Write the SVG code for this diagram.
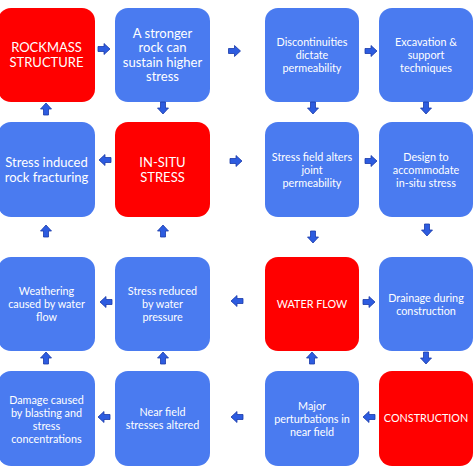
<svg xmlns="http://www.w3.org/2000/svg" width="474" height="474" viewBox="0 0 474 474">
<style>
.b{fill:#4a7bf0}
.r{fill:#ff0000}
text{font-family:Lato,"Liberation Sans",sans-serif;fill:#ffffff;text-anchor:middle}
.t1{font-size:13px}
.t2{font-size:10.8px}
.ar{fill:#2d5ce0;stroke:#1a3aa8;stroke-width:0.8}
</style>
<defs>
<path id="a" d="M-6,-2.5H0V-5.5L6,0L0,5.5V2.5H-6Z"/>
</defs>
<rect width="474" height="474" fill="#ffffff"/>
<g id="n1"><rect class="r" x="-2" y="8" width="97" height="94" rx="13"/><text class="t1"><tspan x="46.5" y="51.5">ROCKMASS</tspan><tspan x="46.5" y="66.5">STRUCTURE</tspan></text></g>
<g id="n2"><rect class="b" x="115" y="8" width="95" height="94" rx="13"/><text class="t1"><tspan x="162.5" y="37.5">A stronger</tspan><tspan x="162.5" y="52">rock can</tspan><tspan x="162.5" y="66.5">sustain higher</tspan><tspan x="162.5" y="81">stress</tspan></text></g>
<g id="n3"><rect class="b" x="265" y="8" width="94" height="94" rx="13"/><text class="t2"><tspan x="312" y="46">Discontinuities</tspan><tspan x="312" y="59">dictate</tspan><tspan x="312" y="72">permeability</tspan></text></g>
<g id="n4"><rect class="b" x="379" y="8" width="94" height="94" rx="13"/><text class="t2"><tspan x="426" y="46">Excavation &amp;</tspan><tspan x="426" y="59">support</tspan><tspan x="426" y="72">techniques</tspan></text></g>
<g id="n5"><rect class="b" x="-2" y="122" width="97" height="95" rx="13"/><text class="t1"><tspan x="46.5" y="166.5">Stress induced</tspan><tspan x="46.5" y="181.5">rock fracturing</tspan></text></g>
<g id="n6"><rect class="r" x="115" y="122" width="95" height="95" rx="13"/><text class="t1"><tspan x="162.5" y="166.5">IN-SITU</tspan><tspan x="162.5" y="181.5">STRESS</tspan></text></g>
<g id="n7"><rect class="b" x="265" y="122" width="94" height="95" rx="13"/><text class="t2"><tspan x="312" y="161">Stress field alters</tspan><tspan x="312" y="174">joint</tspan><tspan x="312" y="187">permeability</tspan></text></g>
<g id="n8"><rect class="b" x="379" y="122" width="94" height="95" rx="13"/><text class="t2"><tspan x="426" y="161">Design to</tspan><tspan x="426" y="174">accommodate</tspan><tspan x="426" y="187">in-situ stress</tspan></text></g>
<g id="n9"><rect class="b" x="-2" y="257" width="97" height="94" rx="13"/><text class="t2"><tspan x="46.5" y="295">Weathering</tspan><tspan x="46.5" y="308">caused by water</tspan><tspan x="46.5" y="321">flow</tspan></text></g>
<g id="n10"><rect class="b" x="115" y="257" width="95" height="94" rx="13"/><text class="t2"><tspan x="162.5" y="295">Stress reduced</tspan><tspan x="162.5" y="308">by water</tspan><tspan x="162.5" y="321">pressure</tspan></text></g>
<g id="n11"><rect class="r" x="265" y="257" width="94" height="94" rx="13"/><text class="t2"><tspan x="312" y="308">WATER FLOW</tspan></text></g>
<g id="n12"><rect class="b" x="379" y="257" width="94" height="94" rx="13"/><text class="t2"><tspan x="426" y="302">Drainage during</tspan><tspan x="426" y="315">construction</tspan></text></g>
<g id="n13"><rect class="b" x="-2" y="371" width="97" height="95" rx="13"/><text class="t2"><tspan x="46.5" y="404">Damage caused</tspan><tspan x="46.5" y="417">by blasting and</tspan><tspan x="46.5" y="430">stress</tspan><tspan x="46.5" y="443">concentrations</tspan></text></g>
<g id="n14"><rect class="b" x="115" y="371" width="95" height="95" rx="13"/><text class="t2"><tspan x="162.5" y="416">Near field</tspan><tspan x="162.5" y="429">stresses altered</tspan></text></g>
<g id="n15"><rect class="b" x="265" y="371" width="94" height="95" rx="13"/><text class="t2"><tspan x="312" y="410">Major</tspan><tspan x="312" y="423">perturbations in</tspan><tspan x="312" y="436">near field</tspan></text></g>
<g id="n16"><rect class="r" x="379" y="371" width="94" height="95" rx="13"/><text class="t2"><tspan x="426" y="422">CONSTRUCTION</tspan></text></g>
<g id="connectors" class="ar">
<use href="#a" transform="translate(104,49)"/>
<use href="#a" transform="translate(234.5,51)"/>
<use href="#a" transform="translate(371,51)"/>
<use href="#a" transform="translate(46,109) rotate(-90)"/>
<use href="#a" transform="translate(163,108) rotate(90)"/>
<use href="#a" transform="translate(313,108) rotate(90)"/>
<use href="#a" transform="translate(426,108) rotate(90)"/>
<use href="#a" transform="translate(105,160) rotate(180)"/>
<use href="#a" transform="translate(236,161)"/>
<use href="#a" transform="translate(371,161)"/>
<use href="#a" transform="translate(46,231) rotate(-90)"/>
<use href="#a" transform="translate(163,231) rotate(-90)"/>
<use href="#a" transform="translate(313,237) rotate(90)"/>
<use href="#a" transform="translate(427,230) rotate(90)"/>
<use href="#a" transform="translate(106,302) rotate(180)"/>
<use href="#a" transform="translate(237,301) rotate(180)"/>
<use href="#a" transform="translate(369,302)"/>
<use href="#a" transform="translate(46,358) rotate(-90)"/>
<use href="#a" transform="translate(163,358) rotate(-90)"/>
<use href="#a" transform="translate(312,358) rotate(-90)"/>
<use href="#a" transform="translate(426,358) rotate(90)"/>
<use href="#a" transform="translate(104,417) rotate(180)"/>
<use href="#a" transform="translate(237,417) rotate(180)"/>
<use href="#a" transform="translate(369,417) rotate(180)"/>
</g>
</svg>
